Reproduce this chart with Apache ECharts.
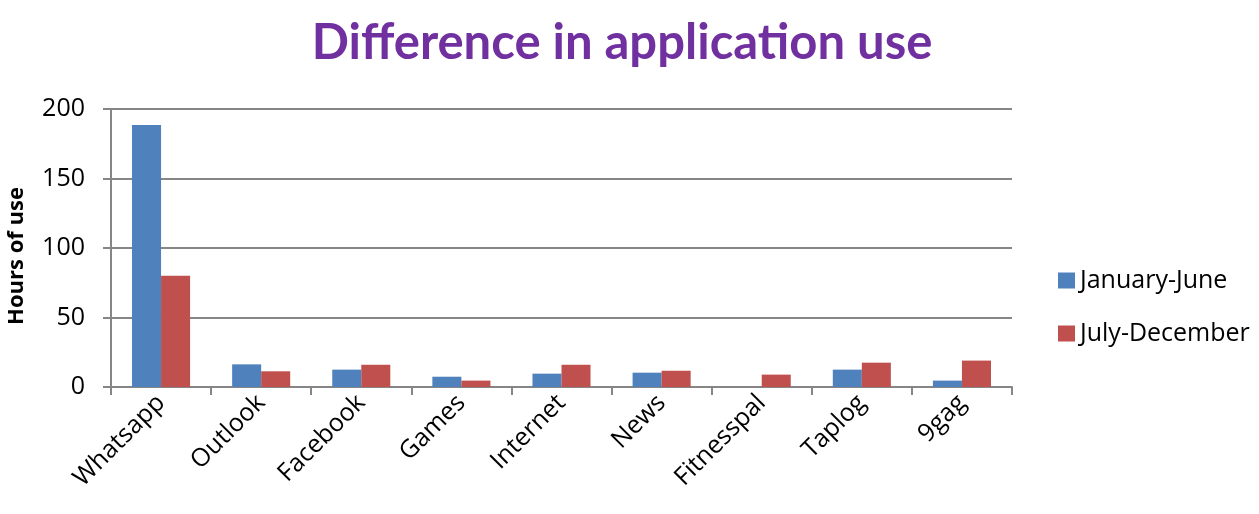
<!DOCTYPE html>
<html><head><meta charset="utf-8">
<script src="https://cdn.jsdelivr.net/npm/echarts@6/dist/echarts.min.js"></script>
<style>html,body{margin:0;padding:0;background:#fff}#c{width:1259px;height:514px}</style>
</head><body><div id="c"></div>
<script>
var categories = ["Whatsapp","Outlook","Facebook","Games","Internet","News","Fitnesspal","Taplog","9gag"];
var janJun = [188.5, 16.3, 12.5, 7.4, 9.6, 10.3, 0, 12.5, 4.6];
var julDec = [80, 11.3, 16, 4.6, 16, 11.7, 8.9, 17.5, 19];
var seriesNames = ["January-June","July-December"];
var yTicks = {min:0, max:200, interval:50};
var font = "Open Sans";
var chart = echarts.init(document.getElementById('c'));
chart.setOption({
  animation:false,
  title:{text:"Difference in application use", left:617, top:14, textAlign:'center',
    textStyle:{color:'#7030A0', fontSize:49, fontWeight:'bold', fontFamily:'Lato'}},
  legend:{orient:'vertical', left:1058, top:268, padding:0, itemGap:28, itemWidth:17, itemHeight:16,
    icon:'rect', itemTextGap:7, textStyle:{fontSize:25, fontFamily:font, color:'#000', padding:[0,0,0,0]},
    data:seriesNames},
  grid:{left:111, right:247, top:109, bottom:127, containLabel:false, outerBoundsMode:'none'},
  xAxis:{type:'category', data:categories,
    axisLine:{lineStyle:{color:'#868686', width:2}},
    axisTick:{show:true, length:8, lineStyle:{color:'#868686', width:2}},
    axisLabel:{rotate:45, fontSize:25, fontFamily:font, color:'#000', margin:12}},
  yAxis:{type:'value', min:yTicks.min, max:yTicks.max, interval:yTicks.interval,
    name:'Hours of use', nameLocation:'middle', nameGap:83, nameRotate:90,
    nameTextStyle:{fontSize:22, fontWeight:'bold', fontFamily:font, color:'#000', padding:[0,16,0,0]},
    axisLine:{show:true, lineStyle:{color:'#868686', width:2}},
    axisTick:{show:true, length:8, lineStyle:{color:'#868686', width:2}},
    splitLine:{lineStyle:{color:'#868686', width:2}},
    axisLabel:{fontSize:25, fontFamily:font, color:'#000', margin:26}},
  series:[
    {name:seriesNames[0], type:'bar', data:janJun, itemStyle:{color:'#4F81BD'}, barGap:'0%', barCategoryGap:'42%'},
    {name:seriesNames[1], type:'bar', data:julDec, itemStyle:{color:'#C0504D'}, barGap:'0%', barCategoryGap:'42%'}
  ]
});
</script></body></html>
